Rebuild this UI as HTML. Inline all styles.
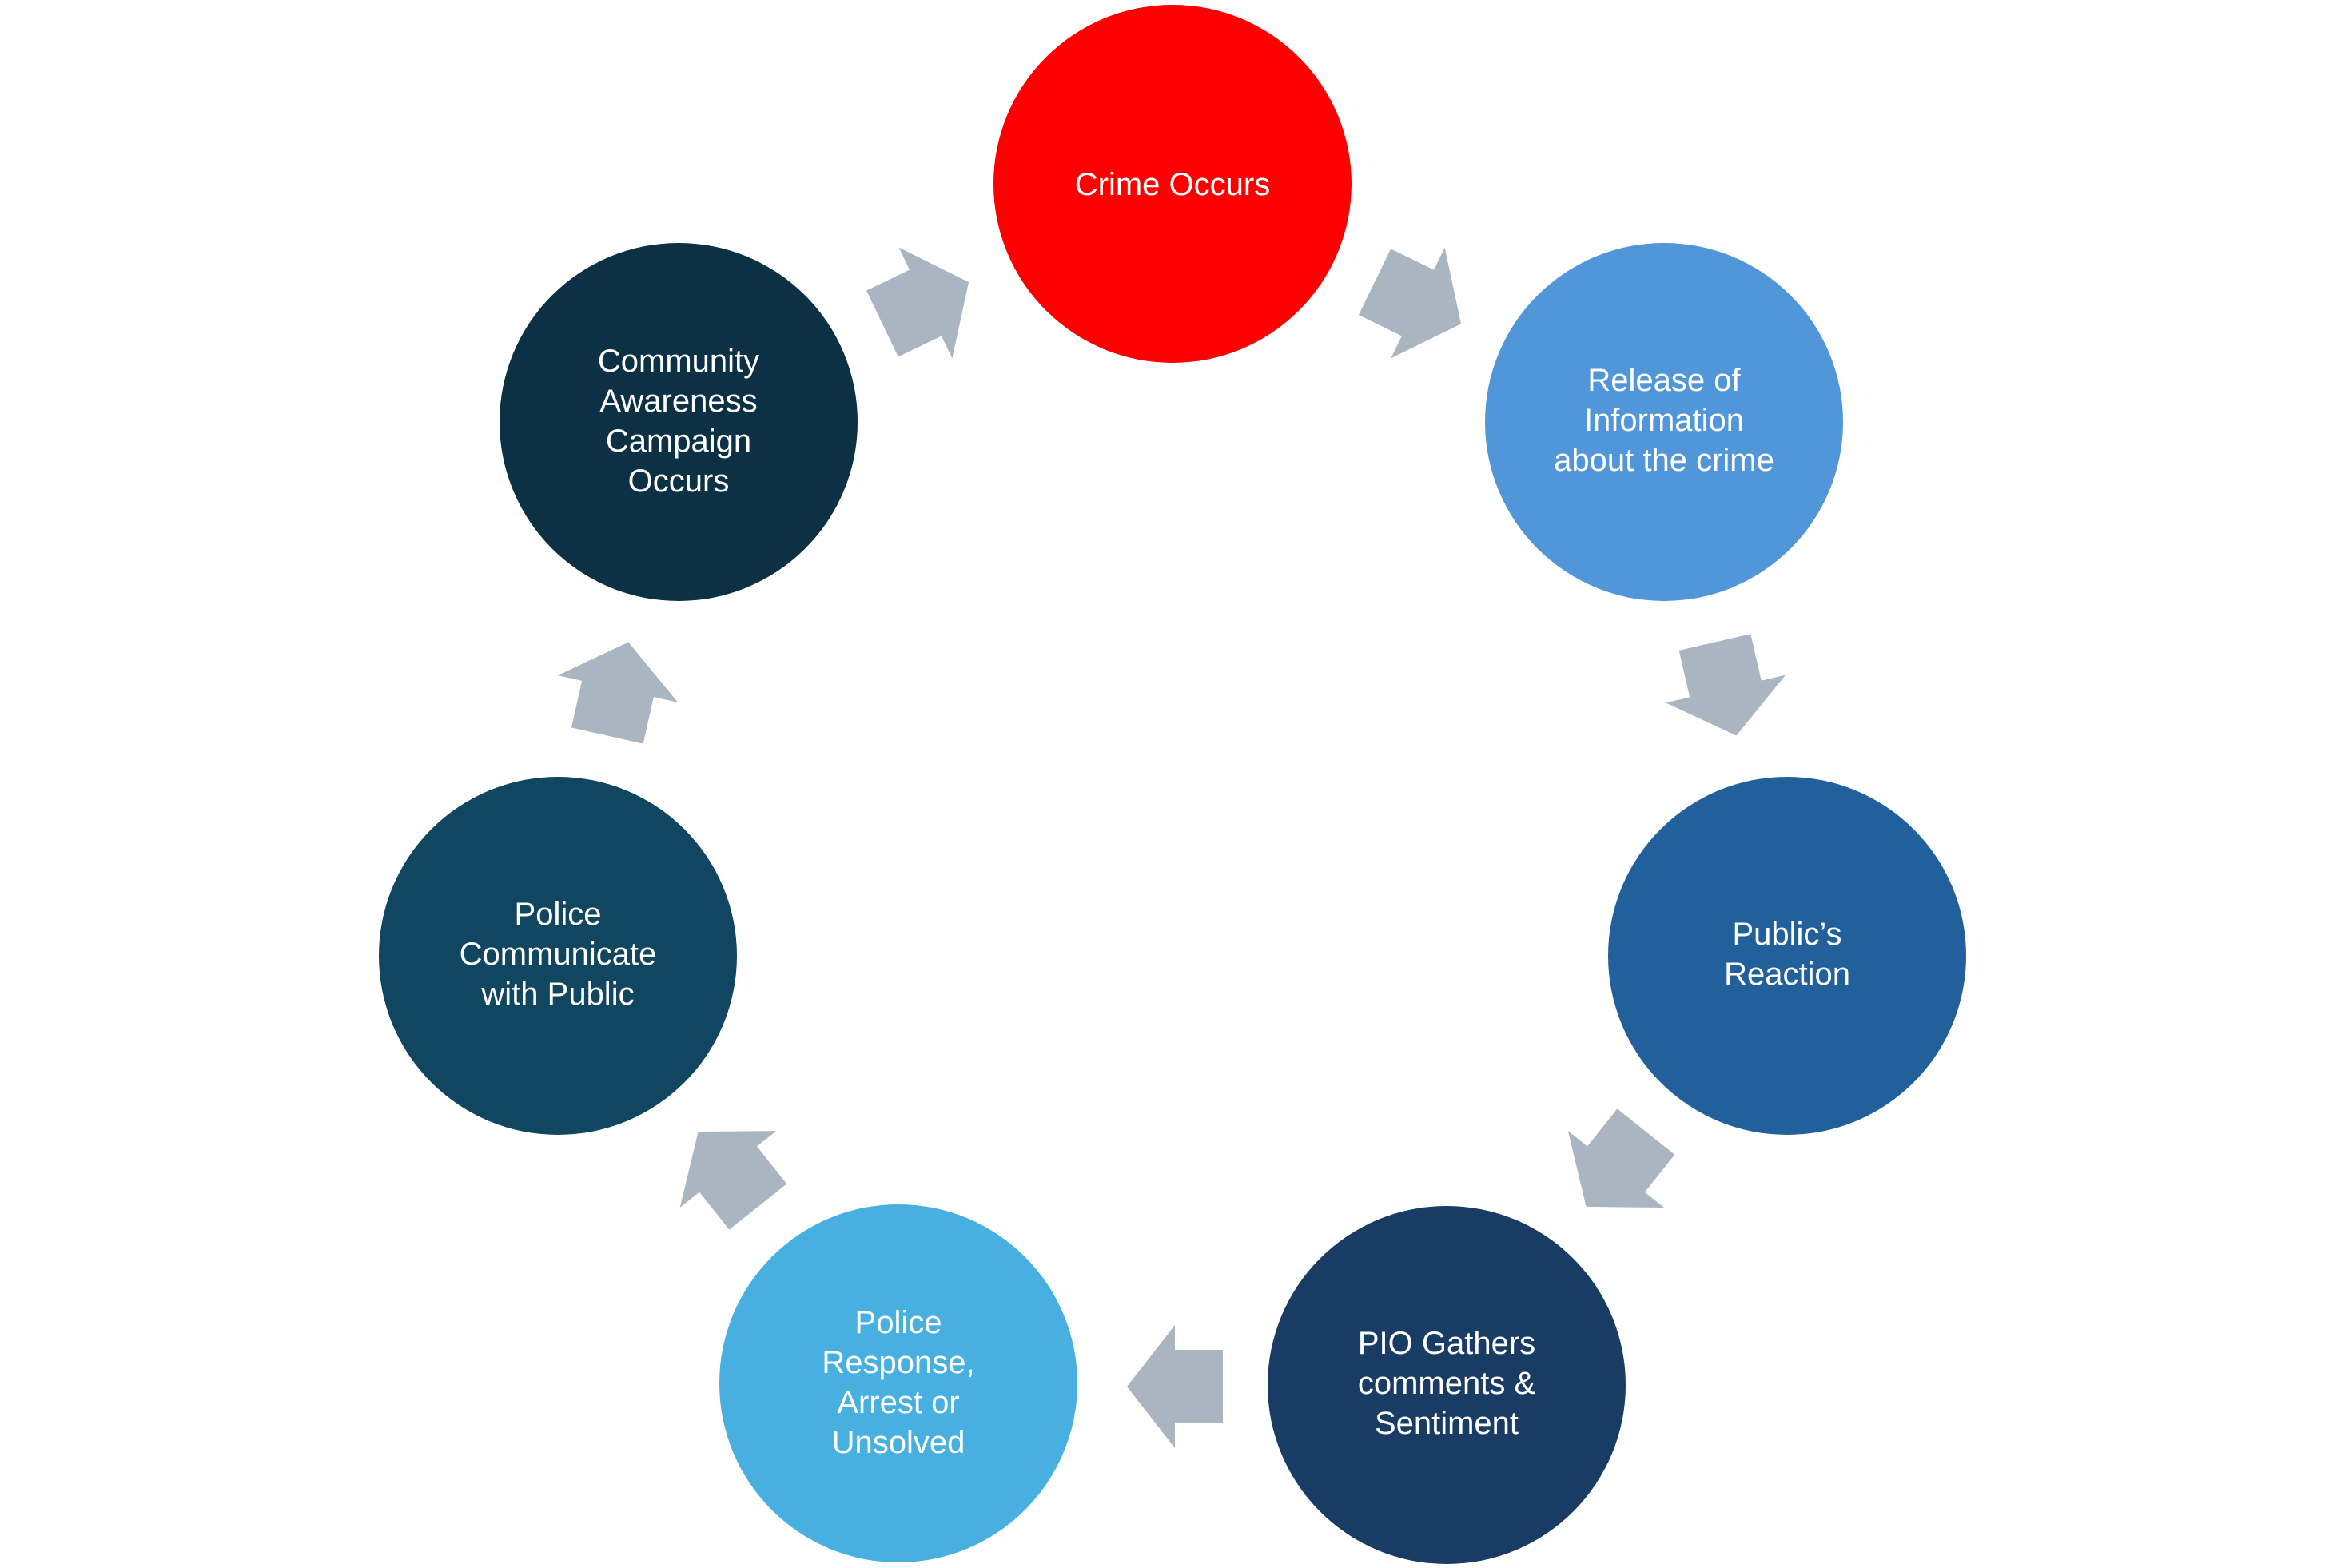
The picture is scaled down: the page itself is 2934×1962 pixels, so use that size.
<!DOCTYPE html>
<html><head><meta charset="utf-8"><style>
html,body{margin:0;padding:0;background:#fff;}
svg{display:block;}
text{font-family:"Liberation Sans",sans-serif;font-size:40px;fill:#fff;text-anchor:middle;}
</style></head><body>
<svg width="2934" height="1962" viewBox="0 0 2934 1962" xmlns="http://www.w3.org/2000/svg">
<defs>
<polygon id="ar" points="-60,-46 0,-46 0,-77 60,0 0,77 0,46 -60,46" fill="#A9B5C1"/>
</defs>
<use href="#ar" transform="translate(1774,379) rotate(25.9)"/>
<use href="#ar" transform="translate(2159,862) rotate(77)"/>
<use href="#ar" transform="translate(2022,1463) rotate(128.6)"/>
<use href="#ar" transform="translate(1470,1735) rotate(180)"/>
<use href="#ar" transform="translate(911,1463) rotate(231.5)"/>
<use href="#ar" transform="translate(773,862) rotate(-77.3)"/>
<use href="#ar" transform="translate(1158,379) rotate(-25.7)"/>

<circle cx="1467" cy="230" r="224" fill="#FF0000"/>
<circle cx="2082" cy="528" r="224" fill="#5096D8"/>
<circle cx="2236" cy="1196" r="224" fill="#22609B"/>
<circle cx="1810" cy="1733" r="224" fill="#183C63"/>
<circle cx="1124" cy="1731" r="224" fill="#48B0E0"/>
<circle cx="698" cy="1196" r="224" fill="#104660"/>
<circle cx="849" cy="528" r="224" fill="#0C3044"/>

<text x="1467" y="244">Crime Occurs</text>
<text x="2082" y="489">Release of</text>
<text x="2082" y="539">Information</text>
<text x="2082" y="589">about the crime</text>
<text x="2236" y="1182">Public’s</text>
<text x="2236" y="1232">Reaction</text>
<text x="1810" y="1694">PIO Gathers</text>
<text x="1810" y="1744">comments &amp;</text>
<text x="1810" y="1794">Sentiment</text>
<text x="1124" y="1668">Police</text>
<text x="1124" y="1718">Response,</text>
<text x="1124" y="1768">Arrest or</text>
<text x="1124" y="1818">Unsolved</text>
<text x="698" y="1157">Police</text>
<text x="698" y="1207">Communicate</text>
<text x="698" y="1257">with Public</text>
<text x="849" y="465">Community</text>
<text x="849" y="515">Awareness</text>
<text x="849" y="565">Campaign</text>
<text x="849" y="615">Occurs</text>
</svg>
</body></html>
